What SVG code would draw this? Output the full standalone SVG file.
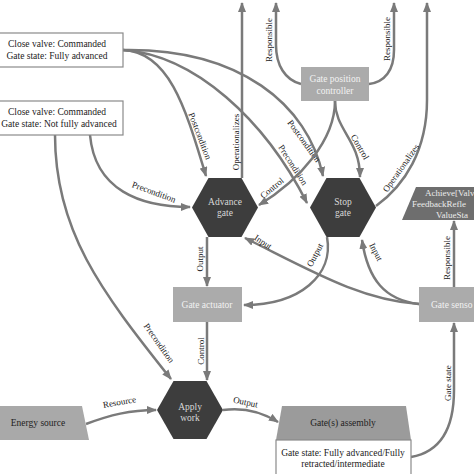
<svg xmlns="http://www.w3.org/2000/svg" width="474" height="474" viewBox="0 0 474 474">
<defs>
<marker id="ah" markerUnits="userSpaceOnUse" markerWidth="10" markerHeight="8" refX="9" refY="4" orient="auto" viewBox="0 0 10 8">
<path d="M0,0 L10,4 L0,8 z" fill="#7a7a7a"/>
</marker>
<style>
text{font-family:"Liberation Serif","DejaVu Serif",serif}
.wbox{fill:#fff;stroke:#8a8a8a;stroke-width:1.2}
.gbox{fill:#ababab}
.hex{fill:#3d3d3d}
.nt{font-size:9.5px;fill:#222;text-anchor:middle}
.lt{font-size:9.5px;fill:#f2f2f2;text-anchor:middle}
.ht{font-size:9.5px;fill:#d8d8d8;text-anchor:middle}
.c path{fill:none;stroke:#7a7a7a;stroke-width:2.5;marker-end:url(#ah)}
.c text{font-size:9px;fill:#222;text-anchor:middle}
</style>
</defs>
<rect width="474" height="474" fill="#fff"/>

<g id="connectors" class="c">
<path d="M242,178 L242,3"/>
<text x="239" y="142" transform="rotate(-90 239 142)">Operationalizes</text>
<path d="M301,84 C285,80 276,65 276,45 L276,3"/>
<text x="272" y="40" transform="rotate(-90 272 40)">Responsible</text>
<path d="M369,84 C385,82 394,70 394,50 L394,3"/>
<text x="390" y="39" transform="rotate(-90 390 39)">Responsible</text>
<path d="M376,206 C405,185 427,150 427,100 L427,3"/>
<text x="401" y="168" dy="3" transform="rotate(-55 401 168)">Operationalizes</text>
<path d="M123,50 C170,52 186,110 206,176"/>
<text x="200" y="136" dy="3" transform="rotate(69 200 136)">Postcondition</text>
<path d="M123,50 C240,48 308,105 323,176"/>
<text x="304" y="141" dy="3" transform="rotate(54 304 141)">Postcondition</text>
<path d="M123,50 C195,55 265,120 307,203"/>
<text x="293" y="165" dy="3" transform="rotate(57 293 165)">Precondition</text>
<path d="M90,135 C95,190 140,207 190,207"/>
<text x="154" y="192" dy="3" transform="rotate(20 154 192)">Precondition</text>
<path d="M55,135 C55,230 100,290 171,379"/>
<text x="159" y="343" dy="3" transform="rotate(55 159 343)">Precondition</text>
<path d="M335,101 C335,140 300,180 259,205"/>
<text x="272" y="188" dy="3" transform="rotate(-39 272 188)">Control</text>
<path d="M335,101 C335,130 360,140 360,177"/>
<text x="360" y="147" dy="3" transform="rotate(60 360 147)">Control</text>
<path d="M207,237 L207,286"/>
<text x="200" y="259" dy="3" transform="rotate(-90 200 259)">Output</text>
<path d="M327,237 C334,275 300,305 244,305"/>
<text x="315" y="255" dy="3" transform="rotate(-62 315 255)">Output</text>
<path d="M419,304 C360,300 310,270 245,238"/>
<text x="263" y="242" dy="3" transform="rotate(33 263 242)">Input</text>
<path d="M419,304 C385,300 368,280 362,240"/>
<text x="376" y="252" dy="3" transform="rotate(63 376 252)">Input</text>
<path d="M454,287 L454,221"/>
<text x="447" y="258" dy="3" transform="rotate(-90 447 258)">Responsible</text>
<path d="M207,322 L207,380"/>
<text x="201" y="351" dy="3" transform="rotate(-90 201 351)">Control</text>
<path d="M86,424 C110,415 130,410 156,410"/>
<text x="120" y="405" transform="rotate(-10 120 405)">Resource</text>
<path d="M223,410 C245,407 262,412 278,422"/>
<text x="245" y="405" transform="rotate(12 245 405)">Output</text>
<path d="M411,457 C440,452 454,430 454,390 L454,323"/>
<text x="448" y="383" dy="3" transform="rotate(-90 448 383)">Gate state</text>
</g>

<g id="box1">
<rect class="wbox" x="-2" y="33" width="125" height="34"/>
<text class="nt" x="57" y="47">Close valve: Commanded</text>
<text class="nt" x="57" y="59">Gate state: Fully advanced</text>
</g>
<g id="box2">
<rect class="wbox" x="-2" y="101" width="125" height="34"/>
<text class="nt" x="57" y="115">Close valve: Commanded</text>
<text class="nt" x="59" y="127">Gate state: Not fully advanced</text>
</g>
<g id="controller">
<rect class="gbox" x="301" y="67" width="68" height="34"/>
<text class="lt" x="335" y="82">Gate position</text>
<text class="lt" x="335" y="94">controller</text>
</g>
<g id="advance">
<polygon class="hex" points="192,207.5 208.5,178 241.5,178 258,207.5 241.5,237 208.5,237"/>
<text class="ht" x="225" y="205">Advance</text>
<text class="ht" x="225" y="216">gate</text>
</g>
<g id="stop">
<polygon class="hex" points="310,207.5 326.5,178 359.5,178 376,207.5 359.5,237 326.5,237"/>
<text class="ht" x="343" y="205">Stop</text>
<text class="ht" x="343" y="216">gate</text>
</g>
<g id="achieve">
<polygon points="416,187 480,187 480,220 402,220" fill="#6e6e6e"/>
<text x="425" y="196" font-size="9" fill="#ececec">Achieve[Valv</text>
<text x="412" y="207" font-size="9" fill="#ececec">FeedbackRefle</text>
<text x="436" y="218" font-size="9" fill="#ececec">ValueSta</text>
</g>
<g id="actuator">
<rect class="gbox" x="173" y="287" width="69" height="35"/>
<text class="lt" x="207" y="308">Gate actuator</text>
</g>
<g id="sensor">
<rect class="gbox" x="419" y="287" width="60" height="35"/>
<text x="431" y="308" font-size="9.5" fill="#f2f2f2">Gate senso</text>
</g>
<g id="apply">
<polygon class="hex" points="157,410 173.5,381 206.5,381 223,410 206.5,439 173.5,439"/>
<text class="ht" x="190" y="410">Apply</text>
<text class="ht" x="190" y="421">work</text>
</g>
<g id="energy">
<polygon points="-2,406 82,406 89,440 -2,440" fill="#a9a9a9"/>
<text class="nt" x="38" y="426" font-size="10">Energy source</text>
</g>
<g id="assembly">
<polygon points="282,406 406,406 411,440 276,440" fill="#9b9b9b"/>
<text class="nt" x="343" y="426">Gate(s) assembly</text>
<rect class="wbox" x="276" y="440" width="135" height="40"/>
<text class="nt" x="343" y="456">Gate state: Fully advanced/Fully</text>
<text class="nt" x="343" y="467">retracted/intermediate</text>
</g>
</svg>
